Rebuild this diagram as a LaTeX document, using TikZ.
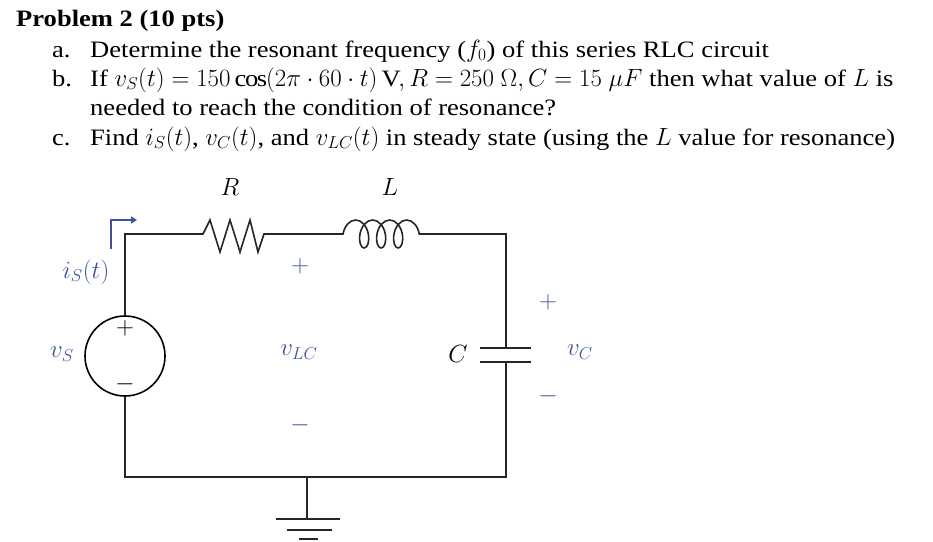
\documentclass[tikz,border=0pt]{standalone}
\usepackage{fontspec}
\setmainfont{Liberation Serif}[FakeStretch=1.13]
\usetikzlibrary{decorations.pathmorphing,arrows.meta}
\definecolor{lblue}{HTML}{3F51A0}
\begin{document}
\begin{tikzpicture}[x=1pt,y=-1pt,
  txt/.style={anchor=base west,inner sep=0pt,font=\fontsize{23.5}{26}\selectfont},
  wire/.style={line width=1.6pt,black!85},
  blu/.style={text=lblue,inner sep=0pt,font=\fontsize{26}{28}\selectfont},
  blk/.style={inner sep=0pt,font=\fontsize{26}{28}\selectfont}]
\useasboundingbox (0,0) rectangle (933,541);
% text
\node[txt,font=\fontsize{23.5}{26}\selectfont\bfseries] (t0) at (16,26) {Problem 2 (10 pts)};
\node[txt] (a0) at (52,57) {a.};
\node[txt] (a1) at (90,57) {Determine the resonant frequency ($f_0$) of this series RLC circuit};
\node[txt] (b0) at (52,86) {b.};
\node[txt] (b1) at (90,86) {If $v_S(t)=150\cos(2\pi\cdot 60\cdot t)\,\mathrm{V}, R=250\ \Omega, C=15\ \mu F$ then what value of $L$ is};
\node[txt] (b2) at (90,115) {needed to reach the condition of resonance?};
\node[txt] (c0) at (52,145) {c.};
\node[txt] (c1) at (90,145) {Find $i_S(t)$, $v_C(t)$, and $v_{LC}(t)$ in steady state (using the $L$ value for resonance)};
% circuit
\coordinate (tl) at (125,234);
\coordinate (tr) at (506,234);
\coordinate (bl) at (125,477);
\coordinate (br) at (506,477);
\coordinate (r1) at (203,234);
\coordinate (r2) at (264,234);
\coordinate (l1) at (341,234);
\coordinate (l2) at (427,234);
\coordinate (c1t) at (506,348);
\coordinate (c1b) at (506,362);
\coordinate (g) at (307,477);
\coordinate (g1) at (307,519);
\node[circle,draw,line width=1.6pt,minimum size=80pt,inner sep=0pt] (src) at (125,356) {};
\node[blk] at (125,328) {$+$};
\node[blk] at (125,384) {$-$};
\draw[wire] (src.north) -- (tl) -- (r1) -- (210,220) -- (220,252) -- (230,220) -- (240,252) -- (250,220) -- (258,252) -- (r2) -- (l1);
\draw[wire,decorate,decoration={coil,aspect=0.6,segment length=17pt,amplitude=14pt,pre length=2pt,post length=2pt}] (l1) -- (l2);
\draw[wire] (l2) -- (tr) -- (c1t);
\draw[wire,line width=2.6pt] (480,348) -- (531,348) (480,362) -- (531,362);
\draw[wire] (c1b) -- (br) -- (bl) -- (src.south);
\draw[wire] (g) -- (g1);
\draw[wire] (276,519) -- (340,519) (287,530) -- (332,530) (299,539) -- (318,539);
% current arrow
\coordinate (ia) at (111,249);
\coordinate (ib) at (111,220);
\coordinate (ic) at (137,220);
\draw[lblue,line width=1.8pt,-{Triangle[length=6pt,width=7pt]}] (ia) -- (ib) -- (ic);
% labels
\node[blk] (R) at (230,187) {$R$};
\node[blk] (L) at (390,187) {$L$};
\node[blk] (C) at (458,354) {$C$};
\node[blu] (is) at (86,272) {$i_S(t)$};
\node[blu] (vs) at (62,354) {$v_S$};
\node[blu] (p1) at (300,266) {$+$};
\node[blu] (vlc) at (299,352) {$v_{LC}$};
\node[blu] (m1) at (300,425) {$-$};
\node[blu] (p2) at (548,302) {$+$};
\node[blu] (vc) at (580,352) {$v_C$};
\node[blu] (m2) at (548,396) {$-$};
\end{tikzpicture}
\end{document}
